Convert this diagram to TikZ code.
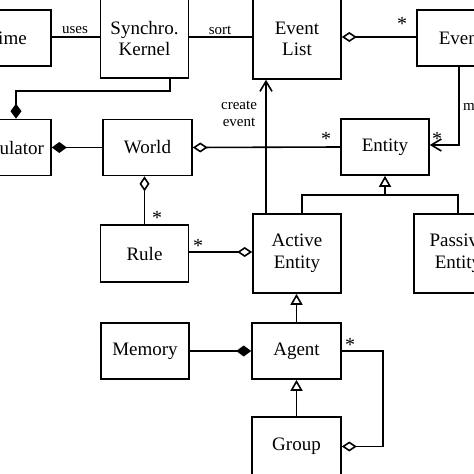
\documentclass[tikz,border=0pt]{standalone}
\usepackage{fontspec}
\setmainfont{Liberation Serif}
\usetikzlibrary{arrows.meta}
\begin{document}
\begin{tikzpicture}[x=1pt,y=-1pt,
  box/.style={draw, line width=1.6pt, minimum width=88pt, minimum height=56pt, inner sep=0pt, font=\fontsize{19}{21.5}\selectfont, align=center},
  tall/.style={box, minimum height=79pt},
  lbl/.style={font=\fontsize{15}{17.5}\selectfont, inner sep=0pt, align=center},
  star/.style={font=\fontsize{20}{20}\selectfont, inner sep=0pt, anchor=north},
  conn/.style={line width=1.6pt},
  odia/.style={conn, {Diamond[open,length=15pt,width=10pt]}-},
  fdia/.style={conn, {Diamond[length=15pt,width=11pt]}-},
  gen/.style={conn, -{Triangle[open,length=11pt,width=12pt]}},
  nav/.style={conn, -{Straight Barb[length=10pt,width=12pt]}}]
\useasboundingbox (0,0) rectangle (474,474);
\fill[white] (0,0) rectangle (474,474);
% boxes
\node[box] (time) at (7,38) {Time};
\node[tall, minimum height=79pt] (synchro) at (144.5,38.5) {Synchro.\\Kernel};
\node[tall, minimum height=80pt] (eventlist) at (297,39) {Event\\List};
\node[box] (event) at (461,38) {Event};
\node[box, minimum width=89pt] (sim) at (6.5,147.5) {Simulator};
\node[box, minimum width=89pt] (world) at (147.5,147.5) {World};
\node[box] (entity) at (385,147) {Entity};
\node[tall] (active) at (297,253.5) {Active\\Entity};
\node[tall] (passive) at (458,253.5) {Passive\\Entity};
\node[box, minimum height=57pt] (rule) at (144.5,253.5) {Rule};
\node[box] (memory) at (145,351) {Memory};
\node[box, minimum width=89pt] (agent) at (296.5,351) {Agent};
\node[box, minimum width=89pt, minimum height=59pt] (group) at (296.5,446.5) {Group};
% connectors
\draw[conn] (time.east |- 0,37) -- (synchro.west |- 0,37);
\node[lbl] (uses) at (75,30) {uses};
\draw[conn] (synchro.east |- 0,37) -- (eventlist.west |- 0,37);
\node[lbl] (sort) at (220,30) {sort};
\draw[odia] (eventlist.east |- 0,37) -- (event.west |- 0,37);
\node[star] (s1) at (402,17) {*};
\draw[nav] ([xshift=-2pt]event.south) |- (entity.east |- 0,145);
\node[star] (s2) at (437,132) {*};
\node[lbl, anchor=west] (mod) at (463,105) {modifies};
\draw[fdia] (sim.north -| 16,0) -- ++(0,-28) -| ([xshift=25.5pt]synchro.south);
\draw[fdia] (sim.east) -- (world.west);
\draw[odia] (world.east) -- (entity.west);
\node[star] (s3) at (326,132) {*};
\draw[nav] ([xshift=-31pt]active.north) -- ([xshift=-31pt]active.north |- eventlist.south);
\node[lbl] (create) at (239,114) {create\\event};
\draw[odia] (world.south -| rule.north) -- (rule.north);
\node[star] (s4) at (157,211) {*};
\draw[odia] (active.west |- 0,252) -- (rule.east |- 0,252);
\node[star] (s5) at (198,239) {*};
\coordinate (j) at (385,195);
\draw[conn] ([xshift=5pt]active.north) |- (j);
\draw[conn] (passive.north) |- (j);
\draw[gen] (j) -- (entity.south);
\draw[gen] (agent.north) -- (agent.north |- active.south);
\draw[fdia] (agent.west) -- (memory.east);
\draw[gen] (group.north) -- (agent.north |- agent.south);
\draw[odia] (group.east) -- ++(41,0) |- (agent.east);
\node[star] (s6) at (350,338) {*};
\end{tikzpicture}
\end{document}
